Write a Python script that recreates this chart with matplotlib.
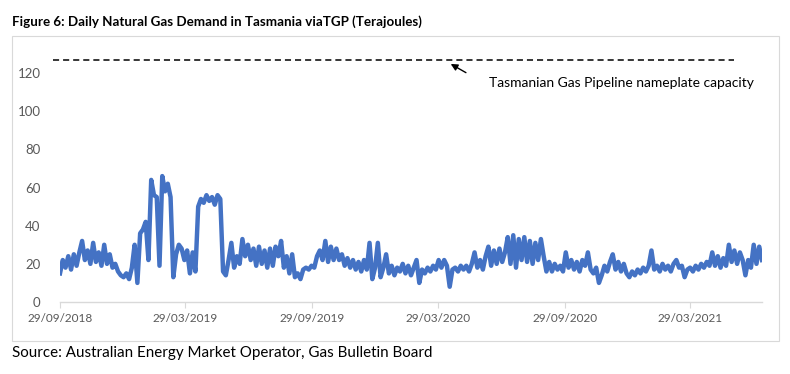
import numpy as np
import pandas as pd
import matplotlib
matplotlib.use("Agg")
import matplotlib.pyplot as plt
import matplotlib.dates as mdates
from matplotlib.patches import Rectangle

plt.rcParams['font.family'] = ['Lato', 'DejaVu Sans']

demand = [
    15, 22, 18, 24, 17, 25, 19, 26, 32, 22,
    27, 20, 31, 21, 26, 19, 30, 20, 25, 18,
    20, 16, 14, 13, 15, 12, 18, 30, 10, 36,
    38, 42, 22, 64, 56, 55, 19, 66, 58, 62,
    55, 13, 25, 30, 28, 22, 27, 15, 26, 16,
    50, 54, 52, 56, 53, 55, 51, 56, 54, 16,
    14, 22, 31, 18, 24, 20, 33, 24, 30, 22,
    28, 19, 29, 20, 27, 18, 28, 19, 29, 24,
    32, 18, 24, 15, 25, 13, 15, 12, 17, 18,
    17, 19, 18, 24, 27, 22, 32, 21, 29, 22,
    28, 22, 25, 19, 23, 18, 22, 17, 21, 16,
    22, 17, 31, 12, 18, 31, 13, 18, 25, 15,
    19, 14, 18, 16, 20, 15, 19, 14, 18, 22,
    10, 17, 15, 18, 16, 19, 17, 22, 18, 22,
    19, 8, 17, 18, 16, 19, 17, 19, 16, 20,
    26, 18, 22, 17, 24, 29, 19, 27, 20, 28,
    21, 26, 34, 20, 35, 18, 33, 22, 34, 21,
    32, 20, 31, 22, 33, 24, 16, 21, 16, 20,
    17, 19, 16, 26, 18, 22, 17, 21, 16, 22,
    19, 26, 17, 15, 18, 10, 14, 19, 16, 21,
    25, 17, 21, 16, 20, 15, 13, 16, 14, 17,
    15, 18, 16, 19, 27, 17, 19, 16, 20, 17,
    19, 16, 20, 22, 18, 19, 13, 17, 18, 16,
    19, 17, 20, 18, 21, 19, 26, 19, 24, 18,
    23, 19, 30, 21, 27, 20, 26, 22, 14, 22,
    18, 30, 20, 29, 22,
]
start_date = "2018-09-29"
capacity = 127
capacity_span = ("2018-09-19", "2021-05-31")
tick_dates = ["2018-09-29", "2019-03-29", "2019-09-29",
              "2020-03-29", "2020-09-29", "2021-03-29"]
y_ticks = [0, 20, 40, 60, 80, 100, 120]

dates = pd.date_range(start_date, periods=len(demand), freq="4D")

fig = plt.figure(figsize=(7.9, 3.74), dpi=100)

# light frame round the chart
fig.patches.append(Rectangle((12 / 790, 1 - 341 / 374), 767 / 790, 305 / 374,
                             transform=fig.transFigure, fill=False,
                             edgecolor="#D9D9D9", linewidth=0.8))

ax = fig.add_axes([60 / 790, 1 - 302 / 374, 702 / 790, 248 / 374])
ax.plot(dates, demand, color="#4472C4", linewidth=3.2, solid_joinstyle="round")

ax.hlines(capacity, pd.Timestamp(capacity_span[0]), pd.Timestamp(capacity_span[1]),
          colors="black", linestyles=(0, (4, 2.6)), linewidth=1.1, clip_on=False)

ax.annotate("", xy=(pd.Timestamp("2020-04-13"), 125.5),
            xytext=(pd.Timestamp("2020-05-12"), 119.5),
            arrowprops=dict(arrowstyle="-|>", color="black", lw=1.0,
                            mutation_scale=10))
ax.text(pd.Timestamp("2020-06-11"), 115, "Tasmanian Gas Pipeline nameplate capacity",
        fontsize=10, color="black", va="center", ha="left")

ax.set_xlim(pd.Timestamp(start_date), dates[-1])
ax.set_ylim(0, 130)
ax.set_yticks(y_ticks)
ax.set_xticks([pd.Timestamp(d) for d in tick_dates])
ax.xaxis.set_major_formatter(mdates.DateFormatter("%d/%m/%Y"))

for s in ["top", "right", "left"]:
    ax.spines[s].set_visible(False)
ax.spines["bottom"].set_color("#D9D9D9")
ax.spines["bottom"].set_linewidth(1.0)
ax.tick_params(axis="y", length=0, labelsize=9.5, labelcolor="#595959", pad=14)
ax.tick_params(axis="x", length=4, color="#D9D9D9", labelsize=8.5,
               labelcolor="#595959", pad=4)

fig.text(12 / 790, 1 - 22 / 374,
         "Figure 6: Daily Natural Gas Demand in Tasmania viaTGP (Terajoules)",
         fontsize=9.6, fontweight="bold", va="center", ha="left")
fig.text(12 / 790, 1 - 353 / 374,
         "Source: Australian Energy Market Operator, Gas Bulletin Board",
         fontsize=10.9, va="center", ha="left")

fig.savefig("out.png", dpi=100)
